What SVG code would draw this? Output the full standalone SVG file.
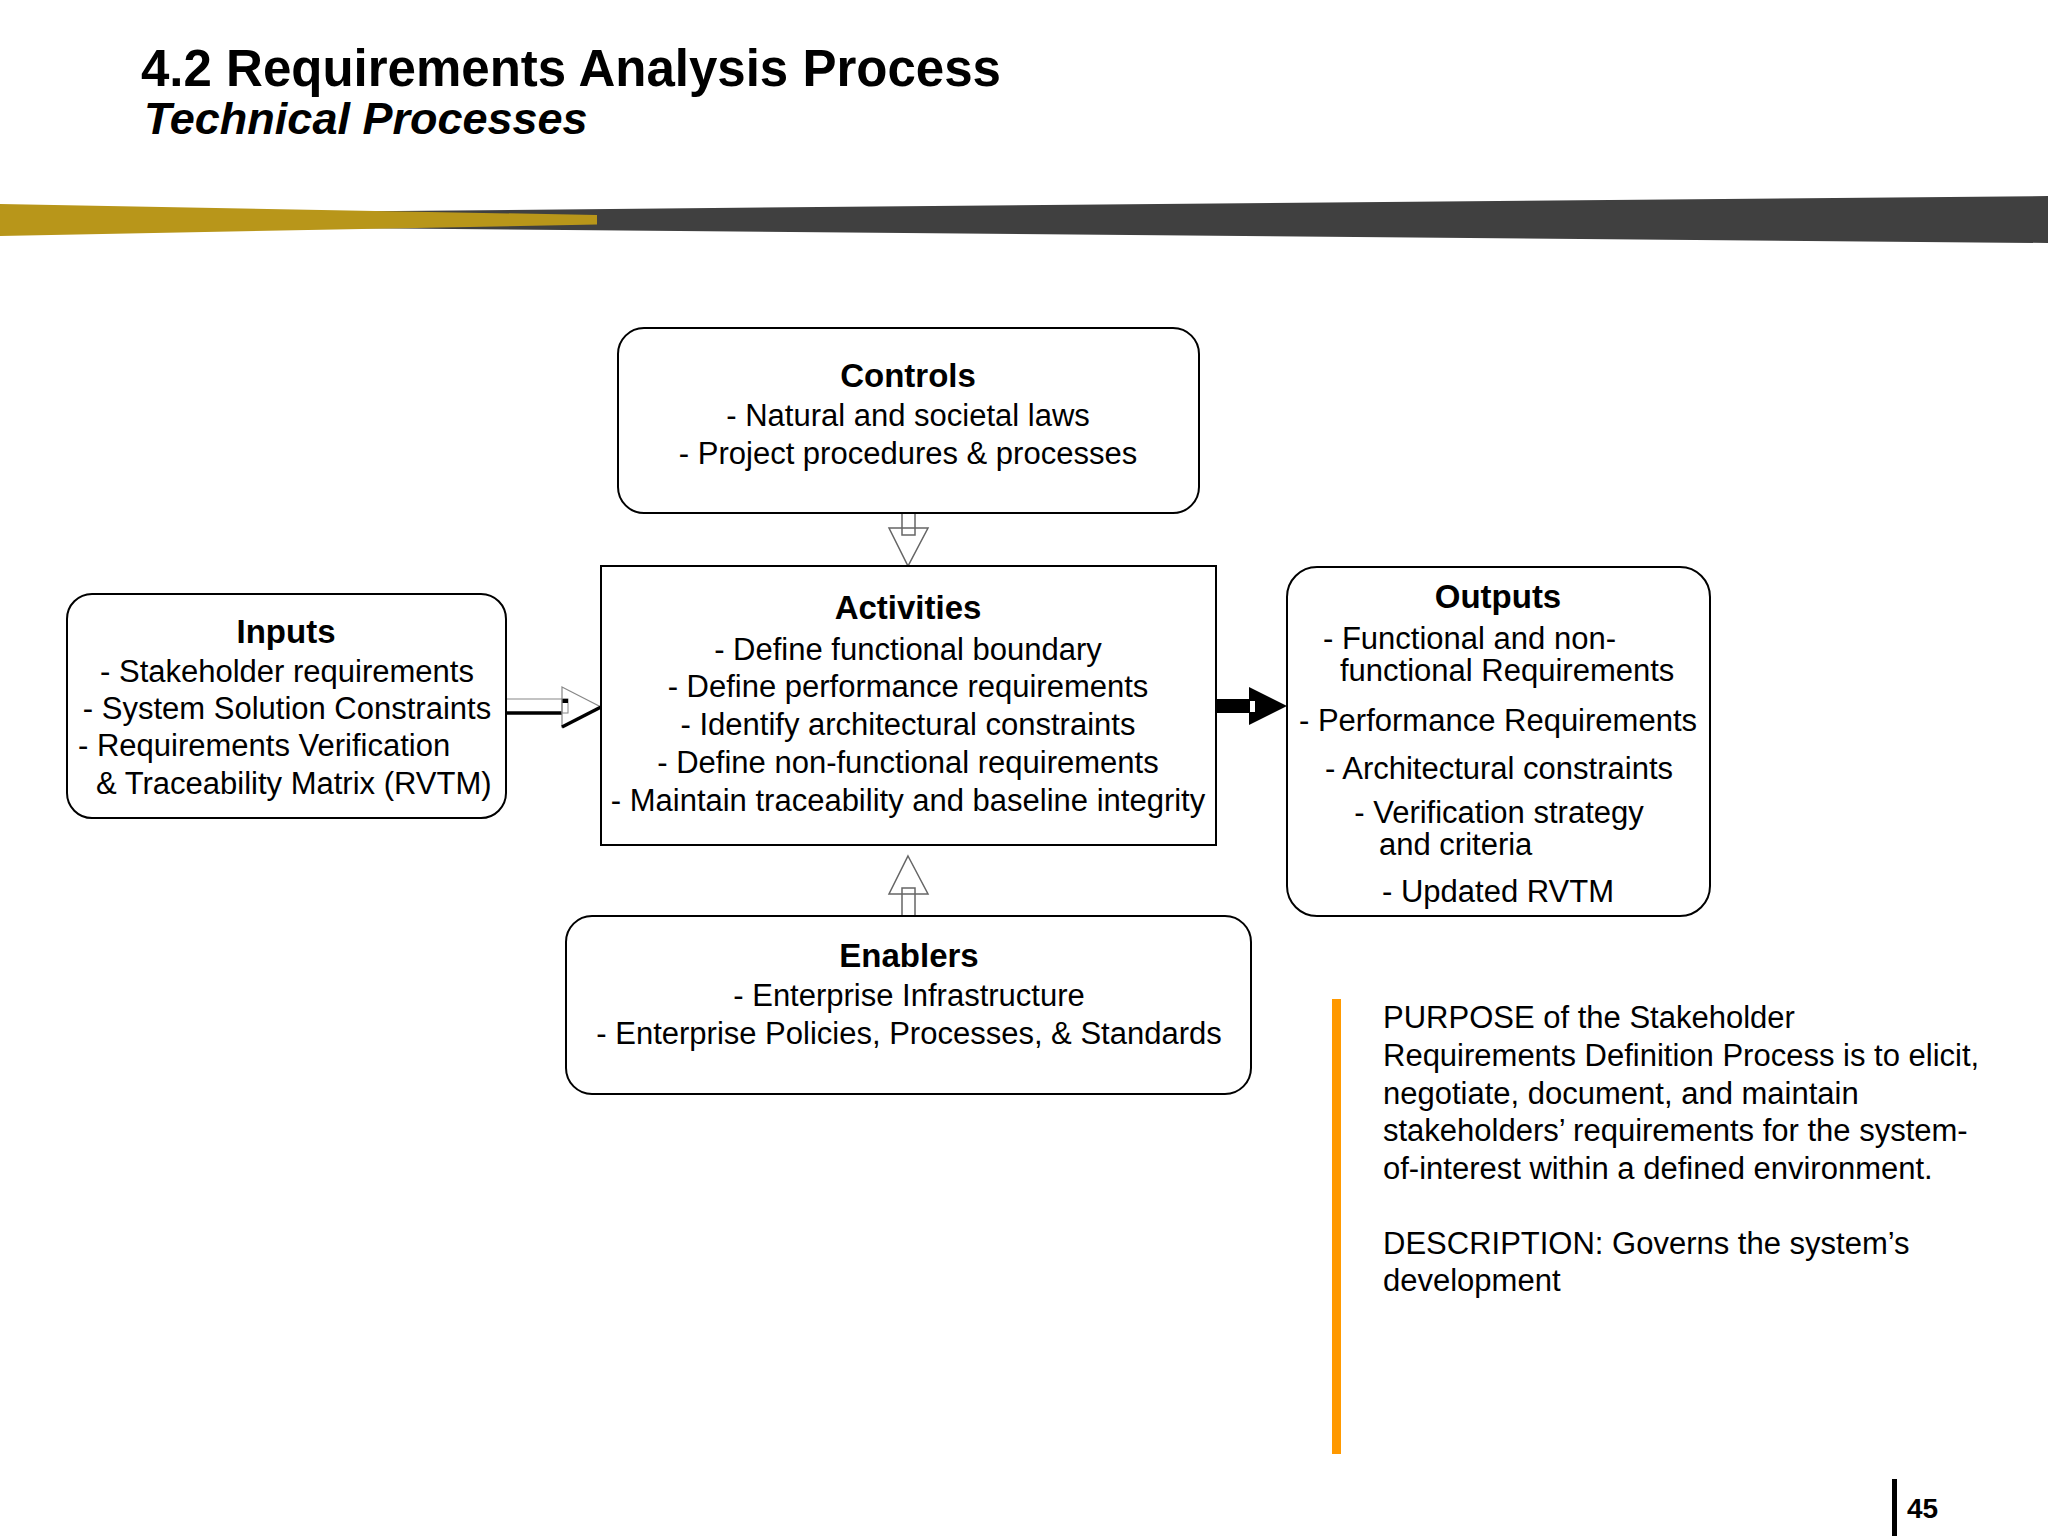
<svg xmlns="http://www.w3.org/2000/svg" width="2048" height="1536" viewBox="0 0 2048 1536">
<style>
text{font-family:"Liberation Sans",Arial,sans-serif;fill:#000}
.t{font-size:31px}
.h{font-size:33px;font-weight:bold}
.c{text-anchor:middle}
.box{fill:#fff;stroke:#000;stroke-width:2}
.ha{fill:none;stroke:#666;stroke-width:1.5}
</style>
<rect width="2048" height="1536" fill="#fff"/>
<g id="header">
<text x="141" y="86" style="font-size:51px;font-weight:bold">4.2 Requirements Analysis Process</text>
<text x="144" y="134" style="font-size:45px;font-weight:bold;font-style:italic">Technical Processes</text>
<polygon points="0,214.5 2048,196 2048,243 0,225" fill="#404040"/>
<polygon points="0,204 597,215 597,224.5 0,236" fill="#B8961A"/>
</g>
<g id="connectors">
<g id="c-controls">
<polygon class="ha" points="889,528 928,528 908,566"/>
<rect class="ha" x="902" y="513" width="13" height="22"/>
</g>
<g id="c-enablers">
<polygon class="ha" points="908,856 928,894 889,894"/>
<rect class="ha" x="902" y="888" width="13" height="28"/>
</g>
<g id="c-inputs">
<line x1="507" y1="699" x2="568" y2="699" stroke="#888" stroke-width="1.2"/>
<line x1="507" y1="713" x2="562" y2="713" stroke="#000" stroke-width="3.5"/>
<rect x="562" y="699" width="6" height="14" fill="none" stroke="#888" stroke-width="1"/>
<rect x="562" y="699" width="6" height="4" fill="#000"/>
<polygon points="562,687 601,707 562,727" fill="none" stroke="#888" stroke-width="1.2"/>
<line x1="562" y1="727" x2="601" y2="707" stroke="#000" stroke-width="3.5"/>
</g>
<g id="c-outputs">
<rect x="1216" y="699" width="34" height="14" fill="#000"/>
<polygon points="1249,687 1287,706 1249,725" fill="#000"/>
<rect x="1250" y="701" width="5" height="11" fill="#fff"/>
</g>
</g>
<g id="controls">
<rect class="box" x="618" y="328" width="581" height="185" rx="26"/>
<text class="h c" x="908" y="387">Controls</text>
<text class="t c" x="908" y="426">- Natural and societal laws</text>
<text class="t c" x="908" y="464">- Project procedures &amp; processes</text>
</g>
<g id="activities">
<rect class="box" x="601" y="566" width="615" height="279"/>
<text class="h c" x="908" y="619">Activities</text>
<text class="t c" x="908" y="660">- Define functional boundary</text>
<text class="t c" x="908" y="697">- Define performance requirements</text>
<text class="t c" x="908" y="735">- Identify architectural constraints</text>
<text class="t c" x="908" y="773">- Define non-functional requirements</text>
<text class="t c" x="908" y="811">- Maintain traceability and baseline integrity</text>
</g>
<g id="enablers">
<rect class="box" x="566" y="916" width="685" height="178" rx="26"/>
<text class="h c" x="909" y="967">Enablers</text>
<text class="t c" x="909" y="1006">- Enterprise Infrastructure</text>
<text class="t c" x="909" y="1044">- Enterprise Policies, Processes, &amp; Standards</text>
</g>
<g id="inputs">
<rect class="box" x="67" y="594" width="439" height="224" rx="25"/>
<text class="h c" x="286" y="643">Inputs</text>
<text class="t c" x="287" y="682">- Stakeholder requirements</text>
<text class="t c" x="287" y="719">- System Solution Constraints</text>
<text class="t" x="78" y="756">- Requirements Verification</text>
<text class="t" x="96" y="794">&amp; Traceability Matrix (RVTM)</text>
</g>
<g id="outputs">
<rect class="box" x="1287" y="567" width="423" height="349" rx="30"/>
<text class="h c" x="1498" y="608">Outputs</text>
<text class="t" x="1323" y="649">- Functional and non-</text>
<text class="t" x="1340" y="681">functional Requirements</text>
<text class="t c" x="1498" y="731">- Performance Requirements</text>
<text class="t c" x="1499" y="779">- Architectural constraints</text>
<text class="t c" x="1499" y="823">- Verification strategy</text>
<text class="t" x="1379" y="855">and criteria</text>
<text class="t c" x="1498" y="902">- Updated RVTM</text>
</g>
<g id="purpose">
<rect x="1332" y="999" width="9" height="455" fill="#FF9900"/>
<text class="t" x="1383" y="1028">PURPOSE of the Stakeholder</text>
<text class="t" x="1383" y="1066">Requirements Definition Process is to elicit,</text>
<text class="t" x="1383" y="1104">negotiate, document, and maintain</text>
<text class="t" x="1383" y="1141">stakeholders’ requirements for the system-</text>
<text class="t" x="1383" y="1179">of-interest within a defined environment.</text>
<text class="t" x="1383" y="1254">DESCRIPTION: Governs the system’s</text>
<text class="t" x="1383" y="1291">development</text>
</g>
<g id="page">
<rect x="1892" y="1479" width="5" height="57" fill="#000"/>
<text x="1907" y="1518" style="font-size:28px;font-weight:bold">45</text>
</g>
</svg>
